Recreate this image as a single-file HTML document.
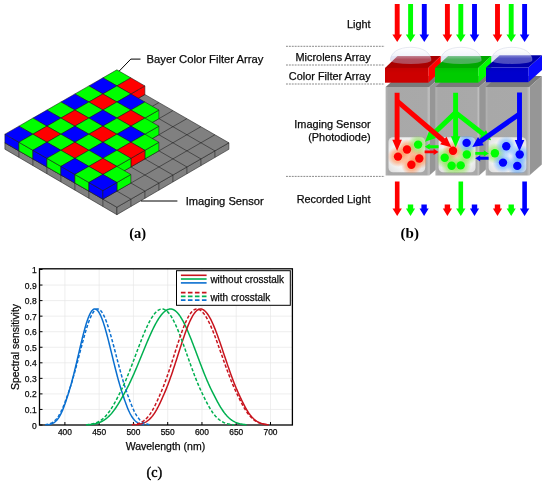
<!DOCTYPE html>
<html><head><meta charset="utf-8"><title>Figure</title>
<style>html,body{margin:0;padding:0;background:#fff}svg{display:block}text{font-family:"Liberation Sans",sans-serif;fill:#0a0a0a;stroke:#0a0a0a;stroke-width:0.25px}text.sb{font-family:"Liberation Serif",serif;font-weight:bold;fill:#000;stroke:none}text.sr{font-family:"Liberation Serif",serif;fill:#000;stroke:#000;stroke-width:0.4px}</style></head><body>
<svg width="550" height="485" viewBox="0 0 550 485">
<rect width="550" height="485" fill="#fff"/>
<g stroke="#1a1a1a" stroke-width="0.55" stroke-linejoin="round">
<polygon fill="#808080" points="4.90,142.80 116.90,207.20 116.90,214.70 4.90,149.20"/>
<polygon fill="#808080" points="116.90,207.20 228.90,142.80 228.90,149.30 116.90,214.70"/>
<polygon fill="#808080" points="4.90,142.80 116.90,78.40 228.90,142.80 116.90,207.20"/>
<path fill="none" d="M18.90 150.85L130.90 86.45M18.90 134.75L130.90 199.15M18.90 150.85L18.90 157.39M130.90 199.15L130.90 206.53M32.90 158.90L144.90 94.50M32.90 126.70L144.90 191.10M32.90 158.90L32.90 165.58M144.90 191.10L144.90 198.35M46.90 166.95L158.90 102.55M46.90 118.65L158.90 183.05M46.90 166.95L46.90 173.76M158.90 183.05L158.90 190.18M60.90 175.00L172.90 110.60M60.90 110.60L172.90 175.00M60.90 175.00L60.90 181.95M172.90 175.00L172.90 182.00M74.90 183.05L186.90 118.65M74.90 102.55L186.90 166.95M74.90 183.05L74.90 190.14M186.90 166.95L186.90 173.83M88.90 191.10L200.90 126.70M88.90 94.50L200.90 158.90M88.90 191.10L88.90 198.33M200.90 158.90L200.90 165.65M102.90 199.15L214.90 134.75M102.90 86.45L214.90 150.85M102.90 199.15L102.90 206.51M214.90 150.85L214.90 157.48"/>
<polygon fill="#00ff00" points="102.90,77.85 116.90,69.80 130.90,77.85 116.90,85.90"/>
<polygon fill="#ff0000" points="130.90,93.95 144.90,85.90 144.90,94.50 130.90,102.55"/>
<polygon fill="#ff0000" points="116.90,85.90 130.90,77.85 144.90,85.90 130.90,93.95"/>
<polygon fill="#0000ff" points="88.90,85.90 102.90,77.85 116.90,85.90 102.90,93.95"/>
<polygon fill="#00ff00" points="102.90,93.95 116.90,85.90 130.90,93.95 116.90,102.00"/>
<polygon fill="#0000ff" points="116.90,102.00 130.90,93.95 144.90,102.00 130.90,110.05"/>
<polygon fill="#00ff00" points="144.90,118.10 158.90,110.05 158.90,118.65 144.90,126.70"/>
<polygon fill="#00ff00" points="130.90,110.05 144.90,102.00 158.90,110.05 144.90,118.10"/>
<polygon fill="#00ff00" points="74.90,93.95 88.90,85.90 102.90,93.95 88.90,102.00"/>
<polygon fill="#ff0000" points="88.90,102.00 102.90,93.95 116.90,102.00 102.90,110.05"/>
<polygon fill="#00ff00" points="102.90,110.05 116.90,102.00 130.90,110.05 116.90,118.10"/>
<polygon fill="#ff0000" points="116.90,118.10 130.90,110.05 144.90,118.10 130.90,126.15"/>
<polygon fill="#00ff00" points="144.90,134.20 158.90,126.15 158.90,134.75 144.90,142.80"/>
<polygon fill="#00ff00" points="130.90,126.15 144.90,118.10 158.90,126.15 144.90,134.20"/>
<polygon fill="#0000ff" points="60.90,102.00 74.90,93.95 88.90,102.00 74.90,110.05"/>
<polygon fill="#00ff00" points="74.90,110.05 88.90,102.00 102.90,110.05 88.90,118.10"/>
<polygon fill="#0000ff" points="88.90,118.10 102.90,110.05 116.90,118.10 102.90,126.15"/>
<polygon fill="#00ff00" points="102.90,126.15 116.90,118.10 130.90,126.15 116.90,134.20"/>
<polygon fill="#0000ff" points="116.90,134.20 130.90,126.15 144.90,134.20 130.90,142.25"/>
<polygon fill="#00ff00" points="144.90,150.30 158.90,142.25 158.90,150.85 144.90,158.90"/>
<polygon fill="#00ff00" points="130.90,142.25 144.90,134.20 158.90,142.25 144.90,150.30"/>
<polygon fill="#00ff00" points="46.90,110.05 60.90,102.00 74.90,110.05 60.90,118.10"/>
<polygon fill="#ff0000" points="60.90,118.10 74.90,110.05 88.90,118.10 74.90,126.15"/>
<polygon fill="#00ff00" points="74.90,126.15 88.90,118.10 102.90,126.15 88.90,134.20"/>
<polygon fill="#ff0000" points="88.90,134.20 102.90,126.15 116.90,134.20 102.90,142.25"/>
<polygon fill="#00ff00" points="102.90,142.25 116.90,134.20 130.90,142.25 116.90,150.30"/>
<polygon fill="#ff0000" points="130.90,158.35 144.90,150.30 144.90,158.90 130.90,166.95"/>
<polygon fill="#ff0000" points="116.90,150.30 130.90,142.25 144.90,150.30 130.90,158.35"/>
<polygon fill="#0000ff" points="32.90,118.10 46.90,110.05 60.90,118.10 46.90,126.15"/>
<polygon fill="#00ff00" points="46.90,126.15 60.90,118.10 74.90,126.15 60.90,134.20"/>
<polygon fill="#0000ff" points="60.90,134.20 74.90,126.15 88.90,134.20 74.90,142.25"/>
<polygon fill="#00ff00" points="74.90,142.25 88.90,134.20 102.90,142.25 88.90,150.30"/>
<polygon fill="#0000ff" points="88.90,150.30 102.90,142.25 116.90,150.30 102.90,158.35"/>
<polygon fill="#00ff00" points="116.90,166.40 130.90,158.35 130.90,166.95 116.90,175.00"/>
<polygon fill="#00ff00" points="102.90,158.35 116.90,150.30 130.90,158.35 116.90,166.40"/>
<polygon fill="#00ff00" points="18.90,126.15 32.90,118.10 46.90,126.15 32.90,134.20"/>
<polygon fill="#ff0000" points="32.90,134.20 46.90,126.15 60.90,134.20 46.90,142.25"/>
<polygon fill="#00ff00" points="46.90,142.25 60.90,134.20 74.90,142.25 60.90,150.30"/>
<polygon fill="#ff0000" points="60.90,150.30 74.90,142.25 88.90,150.30 74.90,158.35"/>
<polygon fill="#00ff00" points="74.90,158.35 88.90,150.30 102.90,158.35 88.90,166.40"/>
<polygon fill="#ff0000" points="88.90,166.40 102.90,158.35 116.90,166.40 102.90,174.45"/>
<polygon fill="#00ff00" points="116.90,182.50 130.90,174.45 130.90,183.05 116.90,191.10"/>
<polygon fill="#00ff00" points="102.90,174.45 116.90,166.40 130.90,174.45 116.90,182.50"/>
<polygon fill="#0000ff" points="4.90,134.20 18.90,142.25 18.90,150.85 4.90,142.80"/>
<polygon fill="#0000ff" points="4.90,134.20 18.90,126.15 32.90,134.20 18.90,142.25"/>
<polygon fill="#00ff00" points="18.90,142.25 32.90,150.30 32.90,158.90 18.90,150.85"/>
<polygon fill="#00ff00" points="18.90,142.25 32.90,134.20 46.90,142.25 32.90,150.30"/>
<polygon fill="#0000ff" points="32.90,150.30 46.90,158.35 46.90,166.95 32.90,158.90"/>
<polygon fill="#0000ff" points="32.90,150.30 46.90,142.25 60.90,150.30 46.90,158.35"/>
<polygon fill="#00ff00" points="46.90,158.35 60.90,166.40 60.90,175.00 46.90,166.95"/>
<polygon fill="#00ff00" points="46.90,158.35 60.90,150.30 74.90,158.35 60.90,166.40"/>
<polygon fill="#0000ff" points="60.90,166.40 74.90,174.45 74.90,183.05 60.90,175.00"/>
<polygon fill="#0000ff" points="60.90,166.40 74.90,158.35 88.90,166.40 74.90,174.45"/>
<polygon fill="#00ff00" points="74.90,174.45 88.90,182.50 88.90,191.10 74.90,183.05"/>
<polygon fill="#00ff00" points="74.90,174.45 88.90,166.40 102.90,174.45 88.90,182.50"/>
<polygon fill="#0000ff" points="88.90,182.50 102.90,190.55 102.90,199.15 88.90,191.10"/>
<polygon fill="#0000ff" points="102.90,190.55 116.90,182.50 116.90,191.10 102.90,199.15"/>
<polygon fill="#0000ff" points="88.90,182.50 102.90,174.45 116.90,182.50 102.90,190.55"/>
</g>
<path d="M119.2 71.1L130.8 59.1L140.5 59.1" fill="none" stroke="#000" stroke-width="1"/>
<path d="M140.9 201L177.4 201" fill="none" stroke="#000" stroke-width="1"/>
<text x="146.5" y="63.2" font-size="11.26" textLength="117" lengthAdjust="spacingAndGlyphs">Bayer Color Filter Array</text>
<text x="185.7" y="204.7" font-size="11.14" textLength="78" lengthAdjust="spacingAndGlyphs">Imaging Sensor</text>
<text x="137.7" y="238.1" font-size="14.6" text-anchor="middle" textLength="17" lengthAdjust="spacingAndGlyphs" class="sb">(a)</text>
<path d="M286 46.3H384.7" stroke="#7a7a7a" stroke-width="0.9" stroke-dasharray="1.9 1.0" fill="none"/>
<path d="M286 65.0H384.7" stroke="#7a7a7a" stroke-width="0.9" stroke-dasharray="1.9 1.0" fill="none"/>
<path d="M286 84.0H384.7" stroke="#7a7a7a" stroke-width="0.9" stroke-dasharray="1.9 1.0" fill="none"/>
<path d="M286 176.4H384.7" stroke="#7a7a7a" stroke-width="0.9" stroke-dasharray="1.9 1.0" fill="none"/>
<text x="370.6" y="27.7" font-size="10.9" text-anchor="end" textLength="23.6" lengthAdjust="spacingAndGlyphs">Light</text>
<text x="370.6" y="60.5" font-size="10.9" text-anchor="end" textLength="75.1" lengthAdjust="spacingAndGlyphs">Microlens Array</text>
<text x="370.6" y="79.5" font-size="10.9" text-anchor="end" textLength="81.8" lengthAdjust="spacingAndGlyphs">Color Filter Array</text>
<text x="370.6" y="127.6" font-size="10.9" text-anchor="end" textLength="76.3" lengthAdjust="spacingAndGlyphs">Imaging Sensor</text>
<text x="370.6" y="141.0" font-size="10.9" text-anchor="end" textLength="62.4" lengthAdjust="spacingAndGlyphs">(Photodiode)</text>
<text x="370.6" y="202.9" font-size="10.9" text-anchor="end" textLength="73.9" lengthAdjust="spacingAndGlyphs">Recorded Light</text>
<path fill="#ff0000" d="M394.75 4.00H399.65V34.40H402.00L397.20 42.00L392.40 34.40H394.75Z"/>
<path fill="#00ff00" d="M408.15 4.00H413.05V34.40H415.40L410.60 42.00L405.80 34.40H408.15Z"/>
<path fill="#0000ff" d="M421.85 4.00H426.75V34.40H429.10L424.30 42.00L419.50 34.40H421.85Z"/>
<path fill="#ff0000" d="M444.95 4.00H449.85V34.40H452.20L447.40 42.00L442.60 34.40H444.95Z"/>
<path fill="#00ff00" d="M458.35 4.00H463.25V34.40H465.60L460.80 42.00L456.00 34.40H458.35Z"/>
<path fill="#0000ff" d="M472.05 4.00H476.95V34.40H479.30L474.50 42.00L469.70 34.40H472.05Z"/>
<path fill="#ff0000" d="M495.05 4.00H499.95V34.40H502.30L497.50 42.00L492.70 34.40H495.05Z"/>
<path fill="#00ff00" d="M508.75 4.00H513.65V34.40H516.00L511.20 42.00L506.40 34.40H508.75Z"/>
<path fill="#0000ff" d="M522.15 4.00H527.05V34.40H529.40L524.60 42.00L519.80 34.40H522.15Z"/>
<defs>
<linearGradient id="cf" x1="0" x2="1" y1="0" y2="0"><stop offset="0" stop-color="#b4b4b4"/><stop offset="0.06" stop-color="#a8a8a8"/><stop offset="0.94" stop-color="#a9a9a9"/><stop offset="1" stop-color="#c4c4c4"/></linearGradient>
<radialGradient id="well" cx="0.5" cy="0.5" r="0.75"><stop offset="0" stop-color="#ffffff"/><stop offset="0.55" stop-color="#f4f4f4"/><stop offset="1" stop-color="#d8d8d8"/></radialGradient>
<radialGradient id="gr"><stop offset="0" stop-color="rgb(255,125,55)" stop-opacity="0.72"/><stop offset="0.55" stop-color="rgb(255,125,55)" stop-opacity="0.5"/><stop offset="1" stop-color="rgb(255,125,55)" stop-opacity="0"/></radialGradient>
<radialGradient id="gg"><stop offset="0" stop-color="rgb(130,225,70)" stop-opacity="0.72"/><stop offset="0.55" stop-color="rgb(130,225,70)" stop-opacity="0.5"/><stop offset="1" stop-color="rgb(130,225,70)" stop-opacity="0"/></radialGradient>
<radialGradient id="gb"><stop offset="0" stop-color="rgb(80,160,255)" stop-opacity="0.72"/><stop offset="0.55" stop-color="rgb(80,160,255)" stop-opacity="0.5"/><stop offset="1" stop-color="rgb(80,160,255)" stop-opacity="0"/></radialGradient>
<linearGradient id="dome" x1="0" x2="0" y1="0" y2="1"><stop offset="0" stop-color="#ffffff" stop-opacity="0.95"/><stop offset="0.6" stop-color="#f0f2f8" stop-opacity="0.7"/><stop offset="1" stop-color="#c8ccd8" stop-opacity="0.45"/></linearGradient>
</defs>
<polygon fill="#7a7a7a" points="385.60,87.00 429.30,87.00 441.70,76.10 398.00,76.10"/>
<polygon fill="#969696" points="429.30,87.00 441.70,76.10 441.70,164.60 429.30,175.50"/>
<rect x="385.6" y="87.0" width="43.7" height="88.5" fill="url(#cf)"/>
<polygon fill="#7a7a7a" points="435.40,87.00 479.10,87.00 491.50,76.10 447.80,76.10"/>
<polygon fill="#969696" points="479.10,87.00 491.50,76.10 491.50,164.60 479.10,175.50"/>
<rect x="435.4" y="87.0" width="43.7" height="88.5" fill="url(#cf)"/>
<polygon fill="#7a7a7a" points="485.70,87.00 529.40,87.00 541.80,76.10 498.10,76.10"/>
<polygon fill="#969696" points="529.40,87.00 541.80,76.10 541.80,164.60 529.40,175.50"/>
<rect x="485.7" y="87.0" width="43.7" height="88.5" fill="url(#cf)"/>
<linearGradient id="bf0" x1="0" x2="0" y1="0" y2="1"><stop offset="0" stop-color="#c40000"/><stop offset="0.35" stop-color="#cd0000"/><stop offset="1" stop-color="#cd0000"/></linearGradient>
<polygon fill="#ff0000" points="428.30,67.90 440.80,56.00 440.80,70.80 428.30,82.70"/>
<polygon fill="#aa0000" points="385.00,67.90 428.30,67.90 440.80,56.00 397.50,56.00"/>
<rect x="385.0" y="67.9" width="43.30000000000001" height="14.799999999999997" fill="url(#bf0)"/>
<linearGradient id="bf1" x1="0" x2="0" y1="0" y2="1"><stop offset="0" stop-color="#00c000"/><stop offset="0.35" stop-color="#00cb00"/><stop offset="1" stop-color="#00cb00"/></linearGradient>
<polygon fill="#00ff00" points="478.30,68.00 491.40,56.00 491.40,70.70 478.30,82.70"/>
<polygon fill="#00a800" points="435.00,68.00 478.30,68.00 491.40,56.00 448.10,56.00"/>
<rect x="435.0" y="68.0" width="43.30000000000001" height="14.700000000000003" fill="url(#bf1)"/>
<linearGradient id="bf2" x1="0" x2="0" y1="0" y2="1"><stop offset="0" stop-color="#0000c4"/><stop offset="0.35" stop-color="#0000cd"/><stop offset="1" stop-color="#0000cd"/></linearGradient>
<polygon fill="#0a0aff" points="528.30,67.50 542.00,55.20 542.00,69.90 528.30,82.20"/>
<polygon fill="#0000aa" points="486.00,67.50 528.30,67.50 542.00,55.20 499.70,55.20"/>
<rect x="486.0" y="67.5" width="42.299999999999955" height="14.700000000000003" fill="url(#bf2)"/>
<linearGradient id="dg0" gradientUnits="userSpaceOnUse" x1="0" x2="0" y1="47.3" y2="63.9"><stop offset="0" stop-color="#fff" stop-opacity="0.95"/><stop offset="0.506" stop-color="#f1f3fa" stop-opacity="0.93"/><stop offset="0.542" stop-color="#d2d6f0" stop-opacity="0.6"/><stop offset="0.729" stop-color="#babde0" stop-opacity="0.42"/><stop offset="1" stop-color="#babde0" stop-opacity="0.40"/></linearGradient>
<path d="M390.40 60.50C390.40 52.50 398.52 47.30 410.70 47.30C422.88 47.30 431.00 52.50 431.00 60.50A20.3 3.4 0 0 1 390.40 60.50Z" fill="url(#dg0)"/>
<path d="M390.40 60.50C390.40 52.50 398.52 47.30 410.70 47.30C422.88 47.30 431.00 52.50 431.00 60.50" fill="none" stroke="#aeb6cf" stroke-opacity="0.6" stroke-width="0.5"/>
<linearGradient id="dg1" gradientUnits="userSpaceOnUse" x1="0" x2="0" y1="47.3" y2="63.9"><stop offset="0" stop-color="#fff" stop-opacity="0.95"/><stop offset="0.506" stop-color="#f1f3fa" stop-opacity="0.93"/><stop offset="0.542" stop-color="#d2d6f0" stop-opacity="0.6"/><stop offset="0.729" stop-color="#babde0" stop-opacity="0.42"/><stop offset="1" stop-color="#babde0" stop-opacity="0.40"/></linearGradient>
<path d="M440.70 60.50C440.70 52.50 448.82 47.30 461.00 47.30C473.18 47.30 481.30 52.50 481.30 60.50A20.3 3.4 0 0 1 440.70 60.50Z" fill="url(#dg1)"/>
<path d="M440.70 60.50C440.70 52.50 448.82 47.30 461.00 47.30C473.18 47.30 481.30 52.50 481.30 60.50" fill="none" stroke="#aeb6cf" stroke-opacity="0.6" stroke-width="0.5"/>
<linearGradient id="dg2" gradientUnits="userSpaceOnUse" x1="0" x2="0" y1="47.3" y2="63.9"><stop offset="0" stop-color="#fff" stop-opacity="0.95"/><stop offset="0.458" stop-color="#f1f3fa" stop-opacity="0.93"/><stop offset="0.494" stop-color="#d2d6f0" stop-opacity="0.6"/><stop offset="0.681" stop-color="#babde0" stop-opacity="0.42"/><stop offset="1" stop-color="#babde0" stop-opacity="0.40"/></linearGradient>
<path d="M491.50 60.50C491.50 52.50 499.62 47.30 511.80 47.30C523.98 47.30 532.10 52.50 532.10 60.50A20.3 3.4 0 0 1 491.50 60.50Z" fill="url(#dg2)"/>
<path d="M491.50 60.50C491.50 52.50 499.62 47.30 511.80 47.30C523.98 47.30 532.10 52.50 532.10 60.50" fill="none" stroke="#aeb6cf" stroke-opacity="0.6" stroke-width="0.5"/>
<rect x="388.5" y="137.3" width="36.69999999999999" height="35" rx="4.5" fill="url(#well)"/>
<rect x="438.6" y="137.3" width="36.89999999999998" height="35" rx="4.5" fill="url(#well)"/>
<rect x="488.6" y="137.3" width="37.69999999999993" height="35" rx="4.5" fill="url(#well)"/>
<clipPath id="wc"><rect x="387.5" y="136.3" width="38.69999999999999" height="37" rx="5"/><rect x="437.6" y="136.3" width="38.89999999999998" height="37" rx="5"/><rect x="487.6" y="136.3" width="39.69999999999993" height="37" rx="5"/></clipPath>
<g clip-path="url(#wc)">
<circle cx="407" cy="149.5" r="10.5" fill="url(#gr)"/>
<circle cx="398" cy="156.6" r="10.5" fill="url(#gr)"/>
<circle cx="419.3" cy="158.5" r="10.5" fill="url(#gr)"/>
<circle cx="411.4" cy="164.8" r="10.5" fill="url(#gr)"/>
<circle cx="453" cy="150.8" r="10.5" fill="url(#gr)"/>
<circle cx="418.1" cy="144.6" r="10.5" fill="url(#gg)"/>
<circle cx="444.7" cy="157.7" r="10.5" fill="url(#gg)"/>
<circle cx="466.8" cy="154.5" r="10.5" fill="url(#gg)"/>
<circle cx="451.6" cy="165.8" r="10.5" fill="url(#gg)"/>
<circle cx="460.7" cy="165.4" r="10.5" fill="url(#gg)"/>
<circle cx="494.9" cy="153.2" r="10.5" fill="url(#gg)"/>
<circle cx="466.6" cy="142.9" r="10.5" fill="url(#gb)"/>
<circle cx="506.3" cy="146.3" r="10.5" fill="url(#gb)"/>
<circle cx="519.7" cy="154.5" r="10.5" fill="url(#gb)"/>
<circle cx="503" cy="162.6" r="10.5" fill="url(#gb)"/>
<circle cx="517.3" cy="165.9" r="10.5" fill="url(#gb)"/>
</g>
<circle cx="407" cy="149.5" r="4.2" fill="#ff0000"/>
<circle cx="398" cy="156.6" r="4.2" fill="#ff0000"/>
<circle cx="419.3" cy="158.5" r="4.2" fill="#ff0000"/>
<circle cx="411.4" cy="164.8" r="4.2" fill="#ff0000"/>
<circle cx="453" cy="150.8" r="4.2" fill="#ff0000"/>
<circle cx="418.1" cy="144.6" r="4.2" fill="#00ff00"/>
<circle cx="444.7" cy="157.7" r="4.2" fill="#00ff00"/>
<circle cx="466.8" cy="154.5" r="4.2" fill="#00ff00"/>
<circle cx="451.6" cy="165.8" r="4.2" fill="#00ff00"/>
<circle cx="460.7" cy="165.4" r="4.2" fill="#00ff00"/>
<circle cx="494.9" cy="153.2" r="4.2" fill="#00ff00"/>
<circle cx="466.6" cy="142.9" r="4.2" fill="#0000ff"/>
<circle cx="506.3" cy="146.3" r="4.2" fill="#0000ff"/>
<circle cx="519.7" cy="154.5" r="4.2" fill="#0000ff"/>
<circle cx="503" cy="162.6" r="4.2" fill="#0000ff"/>
<circle cx="517.3" cy="165.9" r="4.2" fill="#0000ff"/>
<polygon fill="#00ff00" points="453.88,110.79 430.89,132.65 429.16,130.84 425.00,141.70 436.05,138.09 434.33,136.28 457.32,114.41"/>
<polygon fill="#00ff00" points="454.06,114.57 481.38,135.83 479.84,137.80 491.20,140.30 485.98,129.91 484.45,131.88 457.14,110.63"/>
<polygon fill="#00ff00" points="453.15,92.70 453.15,136.20 450.80,136.20 455.60,147.40 460.40,136.20 458.05,136.20 458.05,92.70"/>
<polygon fill="#0000ff" points="518.06,111.95 479.46,139.02 478.03,136.98 472.30,147.10 483.77,145.17 482.33,143.12 520.94,116.05"/>
<polygon fill="#0000ff" points="517.05,92.40 517.05,140.00 514.70,140.00 519.50,151.20 524.30,140.00 521.95,140.00 521.95,92.40"/>
<polygon fill="#ff0000" points="395.58,103.10 441.69,142.39 440.07,144.30 451.30,147.30 446.55,136.68 444.93,138.59 398.82,99.30"/>
<polygon fill="#ff0000" points="394.65,92.70 394.65,139.70 392.30,139.70 397.10,150.90 401.90,139.70 399.55,139.70 399.55,92.70"/>
<polygon fill="#00ff00" points="438.60,145.25 429.80,145.25 429.80,143.60 424.80,146.70 429.80,149.80 429.80,148.15 438.60,148.15"/>
<polygon fill="#ff0000" points="424.60,153.35 433.60,153.35 433.60,155.00 438.60,151.90 433.60,148.80 433.60,150.45 424.60,150.45"/>
<polygon fill="#00ff00" points="475.30,154.85 483.80,154.85 483.80,156.50 488.80,153.40 483.80,150.30 483.80,151.95 475.30,151.95"/>
<polygon fill="#0000ff" points="488.60,156.85 480.20,156.85 480.20,155.20 475.20,158.30 480.20,161.40 480.20,159.75 488.60,159.75"/>
<path fill="#ff0000" d="M394.90 181.40H399.50V208.60H401.90L397.20 216.00L392.50 208.60H394.90Z"/>
<path fill="#00ff00" d="M407.80 204.50H413.20V208.60H415.10L410.50 216.00L405.90 208.60H407.80Z"/>
<path fill="#0000ff" d="M421.40 204.50H426.80V208.60H428.70L424.10 216.00L419.50 208.60H421.40Z"/>
<path fill="#ff0000" d="M444.70 204.50H450.10V208.60H452.00L447.40 216.00L442.80 208.60H444.70Z"/>
<path fill="#00ff00" d="M458.50 181.40H463.10V208.60H465.50L460.80 216.00L456.10 208.60H458.50Z"/>
<path fill="#0000ff" d="M471.80 204.50H477.20V208.60H479.10L474.50 216.00L469.90 208.60H471.80Z"/>
<path fill="#ff0000" d="M494.80 204.50H500.20V208.60H502.10L497.50 216.00L492.90 208.60H494.80Z"/>
<path fill="#00ff00" d="M508.50 204.50H513.90V208.60H515.80L511.20 216.00L506.60 208.60H508.50Z"/>
<path fill="#0000ff" d="M522.30 181.40H526.90V208.60H529.30L524.60 216.00L519.90 208.60H522.30Z"/>
<text x="409.8" y="238.1" font-size="14.6" text-anchor="middle" textLength="18.4" lengthAdjust="spacingAndGlyphs" class="sb">(b)</text>
<path d="M64.90 268.8V425.0M99.17 268.8V425.0M133.43 268.8V425.0M167.69 268.8V425.0M201.96 268.8V425.0M236.23 268.8V425.0M270.49 268.8V425.0M39.5 409.45H292.4M39.5 393.90H292.4M39.5 378.35H292.4M39.5 362.80H292.4M39.5 347.25H292.4M39.5 331.70H292.4M39.5 316.15H292.4M39.5 300.60H292.4M39.5 285.05H292.4" stroke="#e6e6e6" stroke-width="0.7" fill="none"/>
<rect x="39.5" y="268.8" width="252.89999999999998" height="156.2" fill="none" stroke="#000" stroke-width="1.3"/>
<path d="M64.90 425.0v-3M99.17 425.0v-3M133.43 425.0v-3M167.69 425.0v-3M201.96 425.0v-3M236.23 425.0v-3M270.49 425.0v-3M39.5 425.00h3M39.5 409.45h3M39.5 393.90h3M39.5 378.35h3M39.5 362.80h3M39.5 347.25h3M39.5 331.70h3M39.5 316.15h3M39.5 300.60h3M39.5 285.05h3M39.5 269.50h3" stroke="#000" stroke-width="1" fill="none"/>
<clipPath id="pc"><rect x="39.5" y="268.8" width="252.89999999999998" height="157.1"/></clipPath>
<g clip-path="url(#pc)" fill="none" stroke-width="1.5" stroke-linejoin="round">
<path d="M47.48 424.76L48.00 424.70L48.51 424.62L49.03 424.53L49.54 424.43L50.05 424.31L50.57 424.17L51.08 424.02L51.60 423.83L52.11 423.63L52.62 423.39L53.14 423.13L53.65 422.83L54.17 422.50L54.68 422.14L55.19 421.73L55.71 421.28L56.22 420.78L56.74 420.24L57.25 419.65L57.76 419.00L58.28 418.30L58.79 417.55L59.31 416.74L59.82 415.87L60.33 414.93L60.85 413.94L61.36 412.89L61.88 411.78L62.39 410.60L62.90 409.37L63.42 408.09L63.93 406.74L64.44 405.35L64.96 403.91L65.47 402.42L65.99 400.90L66.50 399.34L67.01 397.76L67.53 396.15L68.04 394.53L68.56 392.91L69.07 391.27L69.58 389.58L70.10 387.84L70.61 386.05L71.13 384.22L71.64 382.35L72.15 380.43L72.67 378.48L73.18 376.48L73.70 374.45L74.21 372.39L74.72 370.29L75.24 368.17L75.75 366.03L76.27 363.86L76.78 361.68L77.29 359.49L77.81 357.28L78.32 355.07L78.84 352.86L79.35 350.65L79.86 348.46L80.38 346.27L80.89 344.10L81.41 341.95L81.92 339.84L82.43 337.75L82.95 335.70L83.46 333.69L83.98 331.73L84.49 329.82L85.00 327.97L85.52 326.18L86.03 324.45L86.55 322.80L87.06 321.22L87.57 319.72L88.09 318.31L88.60 316.98L89.12 315.75L89.63 314.61L90.14 313.56L90.66 312.62L91.17 311.78L91.69 311.05L92.20 310.43L92.71 309.92L93.23 309.52L93.74 309.23L94.26 309.06L94.77 309.00L95.28 309.05L95.80 309.20L96.31 309.46L96.83 309.82L97.34 310.29L97.85 310.85L98.37 311.51L98.88 312.28L99.40 313.13L99.91 314.09L100.42 315.13L100.94 316.26L101.45 317.47L101.97 318.77L102.48 320.15L102.99 321.60L103.51 323.12L104.02 324.71L104.53 326.37L105.05 328.08L105.56 329.85L106.08 331.68L106.59 333.55L107.10 335.46L107.62 337.41L108.13 339.40L108.65 341.42L109.16 343.46L109.67 345.52L110.19 347.61L110.70 349.70L111.22 351.81L111.73 353.91L112.24 356.03L112.76 358.13L113.27 360.24L113.79 362.33L114.30 364.41L114.81 366.47L115.33 368.52L115.84 370.54L116.36 372.54L116.87 374.50L117.38 376.44L117.90 378.35L118.41 380.22L118.93 382.06L119.44 383.85L119.95 385.61L120.47 387.33L120.98 389.00L121.50 390.63L122.01 392.22L122.52 393.77L123.04 395.32L123.55 396.86L124.07 398.39L124.58 399.89L125.09 401.37L125.61 402.81L126.12 404.22L126.64 405.59L127.15 406.91L127.66 408.19L128.18 409.42L128.69 410.59L129.21 411.71L129.72 412.78L130.23 413.79L130.75 414.75L131.26 415.65L131.78 416.50L132.29 417.29L132.80 418.03L133.32 418.72L133.83 419.36L134.35 419.95L134.86 420.49L135.37 420.99L135.89 421.44L136.40 421.86L136.92 422.24L137.43 422.58L137.94 422.89L138.46 423.17L138.97 423.42L139.49 423.64L140.00 423.83L140.51 424.01L141.03 424.16L141.54 424.29L142.06 424.41L142.57 424.51L143.08 424.60L143.60 424.67L144.11 424.74" stroke="#0a6fd0"/>
<path d="M87.72 424.75L88.23 424.72L88.75 424.68L89.26 424.64L89.77 424.59L90.29 424.54L90.80 424.48L91.32 424.42L91.83 424.35L92.34 424.28L92.86 424.20L93.37 424.12L93.89 424.03L94.40 423.93L94.91 423.82L95.43 423.70L95.94 423.58L96.46 423.45L96.97 423.30L97.48 423.15L98.00 422.99L98.51 422.81L99.02 422.63L99.54 422.43L100.05 422.22L100.57 422.00L101.08 421.76L101.59 421.51L102.11 421.25L102.62 420.97L103.14 420.68L103.65 420.37L104.16 420.05L104.68 419.71L105.19 419.35L105.71 418.97L106.22 418.58L106.73 418.17L107.25 417.74L107.76 417.29L108.28 416.83L108.79 416.34L109.30 415.84L109.82 415.31L110.33 414.77L110.85 414.21L111.36 413.62L111.87 413.02L112.39 412.40L112.90 411.76L113.42 411.09L113.93 410.41L114.44 409.71L114.96 409.00L115.47 408.26L115.99 407.51L116.50 406.73L117.01 405.95L117.53 405.14L118.04 404.32L118.56 403.49L119.07 402.64L119.58 401.78L120.10 400.91L120.61 400.02L121.13 399.13L121.64 398.23L122.15 397.32L122.67 396.40L123.18 395.48L123.70 394.56L124.21 393.64L124.72 392.71L125.24 391.78L125.75 390.83L126.27 389.87L126.78 388.89L127.29 387.89L127.81 386.88L128.32 385.86L128.84 384.82L129.35 383.76L129.86 382.69L130.38 381.61L130.89 380.51L131.41 379.40L131.92 378.28L132.43 377.15L132.95 376.00L133.46 374.85L133.98 373.68L134.49 372.50L135.00 371.31L135.52 370.11L136.03 368.91L136.55 367.69L137.06 366.47L137.57 365.24L138.09 364.01L138.60 362.77L139.12 361.52L139.63 360.27L140.14 359.02L140.66 357.76L141.17 356.50L141.68 355.24L142.20 353.98L142.71 352.73L143.23 351.47L143.74 350.21L144.25 348.96L144.77 347.71L145.28 346.47L145.80 345.23L146.31 343.99L146.82 342.77L147.34 341.55L147.85 340.34L148.37 339.15L148.88 337.96L149.39 336.78L149.91 335.62L150.42 334.47L150.94 333.34L151.45 332.22L151.96 331.12L152.48 330.04L152.99 328.97L153.51 327.92L154.02 326.90L154.53 325.89L155.05 324.90L155.56 323.94L156.08 323.00L156.59 322.09L157.10 321.20L157.62 320.34L158.13 319.50L158.65 318.69L159.16 317.91L159.67 317.16L160.19 316.44L160.70 315.74L161.22 315.08L161.73 314.45L162.24 313.85L162.76 313.29L163.27 312.76L163.79 312.26L164.30 311.79L164.81 311.36L165.33 310.97L165.84 310.61L166.36 310.28L166.87 309.99L167.38 309.74L167.90 309.53L168.41 309.35L168.93 309.20L169.44 309.10L169.95 309.03L170.47 309.00L170.98 309.01L171.50 309.06L172.01 309.15L172.52 309.29L173.04 309.48L173.55 309.70L174.07 309.97L174.58 310.29L175.09 310.64L175.61 311.04L176.12 311.48L176.64 311.96L177.15 312.48L177.66 313.05L178.18 313.65L178.69 314.29L179.21 314.97L179.72 315.69L180.23 316.44L180.75 317.23L181.26 318.05L181.77 318.91L182.29 319.80L182.80 320.73L183.32 321.68L183.83 322.67L184.34 323.68L184.86 324.73L185.37 325.80L185.89 326.89L186.40 328.01L186.91 329.16L187.43 330.32L187.94 331.51L188.46 332.72L188.97 333.95L189.48 335.19L190.00 336.46L190.51 337.73L191.03 339.02L191.54 340.33L192.05 341.65L192.57 342.97L193.08 344.31L193.60 345.66L194.11 347.01L194.62 348.37L195.14 349.73L195.65 351.10L196.17 352.47L196.68 353.85L197.19 355.22L197.71 356.59L198.22 357.96L198.74 359.33L199.25 360.70L199.76 362.06L200.28 363.41L200.79 364.76L201.31 366.10L201.82 367.44L202.33 368.76L202.85 370.08L203.36 371.39L203.88 372.68L204.39 373.96L204.90 375.23L205.42 376.49L205.93 377.73L206.45 378.96L206.96 380.18L207.47 381.37L207.99 382.56L208.50 383.72L209.02 384.87L209.53 386.00L210.04 387.12L210.56 388.22L211.07 389.30L211.59 390.36L212.10 391.40L212.61 392.42L213.13 393.43L213.64 394.44L214.16 395.44L214.67 396.45L215.18 397.44L215.70 398.43L216.21 399.41L216.73 400.38L217.24 401.34L217.75 402.29L218.27 403.22L218.78 404.13L219.30 405.03L219.81 405.90L220.32 406.76L220.84 407.60L221.35 408.42L221.86 409.22L222.38 410.00L222.89 410.75L223.41 411.48L223.92 412.19L224.43 412.87L224.95 413.53L225.46 414.17L225.98 414.79L226.49 415.38L227.00 415.95L227.52 416.49L228.03 417.01L228.55 417.51L229.06 417.99L229.57 418.44L230.09 418.88L230.60 419.29L231.12 419.68L231.63 420.05L232.14 420.41L232.66 420.74L233.17 421.06L233.69 421.35L234.20 421.63L234.71 421.90L235.23 422.15L235.74 422.38L236.26 422.60L236.77 422.80L237.28 422.99L237.80 423.17L238.31 423.33L238.83 423.48L239.34 423.63L239.85 423.76L240.37 423.88L240.88 423.99L241.40 424.09L241.91 424.19L242.42 424.28L242.94 424.36L243.45 424.43L243.97 424.49L244.48 424.55L244.99 424.61L245.51 424.66L246.02 424.70L246.54 424.74" stroke="#00b050"/>
<path d="M135.71 424.75L136.23 424.71L136.74 424.66L137.26 424.60L137.77 424.53L138.28 424.46L138.80 424.38L139.31 424.28L139.83 424.18L140.34 424.07L140.85 423.94L141.37 423.81L141.88 423.66L142.40 423.49L142.91 423.31L143.42 423.12L143.94 422.90L144.45 422.67L144.97 422.42L145.48 422.15L145.99 421.86L146.51 421.54L147.02 421.20L147.54 420.84L148.05 420.46L148.56 420.04L149.08 419.60L149.59 419.14L150.11 418.64L150.62 418.12L151.13 417.56L151.65 416.97L152.16 416.36L152.68 415.71L153.19 415.03L153.70 414.32L154.22 413.57L154.73 412.80L155.25 411.99L155.76 411.15L156.27 410.27L156.79 409.37L157.30 408.44L157.82 407.48L158.33 406.48L158.84 405.47L159.36 404.42L159.87 403.35L160.39 402.26L160.90 401.15L161.41 400.03L161.93 398.88L162.44 397.72L162.96 396.56L163.47 395.38L163.98 394.20L164.50 393.02L165.01 391.83L165.53 390.61L166.04 389.37L166.55 388.10L167.07 386.81L167.58 385.50L168.10 384.16L168.61 382.79L169.12 381.41L169.64 380.00L170.15 378.57L170.66 377.12L171.18 375.65L171.69 374.17L172.21 372.66L172.72 371.14L173.23 369.61L173.75 368.06L174.26 366.50L174.78 364.92L175.29 363.34L175.80 361.75L176.32 360.15L176.83 358.54L177.35 356.94L177.86 355.33L178.37 353.71L178.89 352.10L179.40 350.50L179.92 348.89L180.43 347.30L180.94 345.71L181.46 344.13L181.97 342.56L182.49 341.01L183.00 339.47L183.51 337.95L184.03 336.45L184.54 334.97L185.06 333.51L185.57 332.08L186.08 330.68L186.60 329.30L187.11 327.96L187.63 326.65L188.14 325.37L188.65 324.13L189.17 322.93L189.68 321.77L190.20 320.65L190.71 319.57L191.22 318.54L191.74 317.55L192.25 316.61L192.77 315.72L193.28 314.88L193.79 314.09L194.31 313.36L194.82 312.68L195.34 312.05L195.85 311.48L196.36 310.97L196.88 310.52L197.39 310.12L197.91 309.78L198.42 309.50L198.93 309.29L199.45 309.13L199.96 309.03L200.48 309.00L200.99 309.02L201.50 309.10L202.02 309.23L202.53 309.42L203.05 309.66L203.56 309.96L204.07 310.31L204.59 310.71L205.10 311.17L205.62 311.67L206.13 312.23L206.64 312.84L207.16 313.50L207.67 314.21L208.19 314.97L208.70 315.77L209.21 316.62L209.73 317.52L210.24 318.45L210.75 319.43L211.27 320.45L211.78 321.51L212.30 322.61L212.81 323.74L213.32 324.91L213.84 326.11L214.35 327.34L214.87 328.61L215.38 329.90L215.89 331.22L216.41 332.57L216.92 333.94L217.44 335.33L217.95 336.75L218.46 338.18L218.98 339.63L219.49 341.09L220.01 342.57L220.52 344.06L221.03 345.57L221.55 347.08L222.06 348.60L222.58 350.12L223.09 351.65L223.60 353.18L224.12 354.72L224.63 356.25L225.15 357.78L225.66 359.31L226.17 360.84L226.69 362.36L227.20 363.87L227.72 365.38L228.23 366.87L228.74 368.36L229.26 369.83L229.77 371.29L230.29 372.74L230.80 374.17L231.31 375.58L231.83 376.98L232.34 378.36L232.86 379.73L233.37 381.07L233.88 382.40L234.40 383.70L234.91 384.98L235.43 386.25L235.94 387.49L236.45 388.71L236.97 389.90L237.48 391.07L238.00 392.22L238.51 393.35L239.02 394.47L239.54 395.60L240.05 396.72L240.57 397.83L241.08 398.93L241.59 400.02L242.11 401.09L242.62 402.15L243.14 403.19L243.65 404.21L244.16 405.21L244.68 406.19L245.19 407.14L245.71 408.07L246.22 408.97L246.73 409.84L247.25 410.69L247.76 411.50L248.28 412.29L248.79 413.05L249.30 413.78L249.82 414.48L250.33 415.15L250.85 415.80L251.36 416.41L251.87 417.00L252.39 417.55L252.90 418.08L253.41 418.58L253.93 419.06L254.44 419.51L254.96 419.93L255.47 420.33L255.98 420.71L256.50 421.06L257.01 421.39L257.53 421.70L258.04 421.99L258.55 422.26L259.07 422.51L259.58 422.75L260.10 422.96L260.61 423.16L261.12 423.34L261.64 423.51L262.15 423.67L262.67 423.81L263.18 423.94L263.69 424.06L264.21 424.17L264.72 424.27L265.24 424.36L265.75 424.44L266.26 424.51L266.78 424.57L267.29 424.63L267.81 424.68L268.32 424.73" stroke="#c8141e"/>
<path d="M45.12 424.73L45.64 424.67L46.15 424.60L46.67 424.52L47.18 424.43L47.69 424.32L48.21 424.20L48.72 424.06L49.24 423.90L49.75 423.73L50.26 423.53L50.78 423.31L51.29 423.07L51.81 422.80L52.32 422.50L52.83 422.17L53.35 421.81L53.86 421.41L54.38 420.98L54.89 420.52L55.40 420.01L55.92 419.46L56.43 418.87L56.95 418.24L57.46 417.56L57.97 416.84L58.49 416.06L59.00 415.24L59.52 414.37L60.03 413.46L60.54 412.49L61.06 411.48L61.57 410.41L62.09 409.30L62.60 408.15L63.11 406.95L63.63 405.71L64.14 404.42L64.66 403.11L65.17 401.76L65.68 400.38L66.20 398.97L66.71 397.55L67.23 396.11L67.74 394.66L68.25 393.20L68.77 391.74L69.28 390.23L69.80 388.69L70.31 387.12L70.82 385.50L71.34 383.85L71.85 382.16L72.37 380.44L72.88 378.69L73.39 376.90L73.91 375.09L74.42 373.25L74.93 371.38L75.45 369.49L75.96 367.58L76.48 365.65L76.99 363.71L77.50 361.75L78.02 359.78L78.53 357.81L79.05 355.83L79.56 353.84L80.07 351.86L80.59 349.88L81.10 347.92L81.62 345.96L82.13 344.01L82.64 342.09L83.16 340.18L83.67 338.31L84.19 336.46L84.70 334.64L85.21 332.86L85.73 331.11L86.24 329.41L86.76 327.76L87.27 326.16L87.78 324.61L88.30 323.12L88.81 321.68L89.33 320.32L89.84 319.01L90.35 317.78L90.87 316.61L91.38 315.53L91.90 314.51L92.41 313.58L92.92 312.73L93.44 311.96L93.95 311.28L94.47 310.69L94.98 310.18L95.49 309.76L96.01 309.43L96.52 309.20L97.04 309.05L97.55 309.00L98.06 309.04L98.58 309.17L99.09 309.39L99.61 309.70L100.12 310.10L100.63 310.58L101.15 311.16L101.66 311.82L102.18 312.57L102.69 313.40L103.20 314.31L103.72 315.29L104.23 316.36L104.75 317.50L105.26 318.71L105.77 319.99L106.29 321.33L106.80 322.74L107.32 324.21L107.83 325.74L108.34 327.32L108.86 328.95L109.37 330.62L109.89 332.34L110.40 334.10L110.91 335.90L111.43 337.73L111.94 339.59L112.46 341.47L112.97 343.38L113.48 345.31L114.00 347.25L114.51 349.20L115.03 351.17L115.54 353.14L116.05 355.11L116.57 357.08L117.08 359.04L117.59 361.00L118.11 362.95L118.62 364.89L119.14 366.82L119.65 368.72L120.16 370.61L120.68 372.47L121.19 374.31L121.71 376.13L122.22 377.91L122.73 379.67L123.25 381.40L123.76 383.09L124.28 384.75L124.79 386.37L125.30 387.96L125.82 389.51L126.33 391.02L126.85 392.49L127.36 393.94L127.87 395.38L128.39 396.82L128.90 398.25L129.42 399.66L129.93 401.04L130.44 402.40L130.96 403.73L131.47 405.02L131.99 406.27L132.50 407.49L133.01 408.66L133.53 409.79L134.04 410.88L134.56 411.91L135.07 412.90L135.58 413.84L136.10 414.73L136.61 415.58L137.13 416.37L137.64 417.12L138.15 417.83L138.67 418.48L139.18 419.10L139.70 419.67L140.21 420.20L140.72 420.69L141.24 421.14L141.75 421.55L142.27 421.93L142.78 422.28L143.29 422.60L143.81 422.89L144.32 423.15L144.84 423.38L145.35 423.59L145.86 423.78L146.38 423.95L146.89 424.10L147.41 424.23L147.92 424.35L148.43 424.45L148.95 424.54L149.46 424.62L149.98 424.69L150.49 424.75" stroke="#0a6fd0" stroke-dasharray="3.3 1.9"/>
<path d="M86.01 424.76L86.53 424.72L87.04 424.68L87.55 424.63L88.07 424.58L88.58 424.52L89.10 424.46L89.61 424.39L90.12 424.31L90.64 424.23L91.15 424.14L91.67 424.04L92.18 423.93L92.69 423.81L93.21 423.69L93.72 423.55L94.24 423.40L94.75 423.24L95.26 423.07L95.78 422.88L96.29 422.69L96.81 422.48L97.32 422.25L97.83 422.01L98.35 421.75L98.86 421.48L99.38 421.19L99.89 420.88L100.40 420.56L100.92 420.21L101.43 419.85L101.95 419.46L102.46 419.06L102.97 418.64L103.49 418.19L104.00 417.72L104.52 417.23L105.03 416.72L105.54 416.19L106.06 415.63L106.57 415.05L107.09 414.45L107.60 413.82L108.11 413.17L108.63 412.49L109.14 411.80L109.66 411.08L110.17 410.33L110.68 409.57L111.20 408.78L111.71 407.97L112.23 407.14L112.74 406.29L113.25 405.42L113.77 404.53L114.28 403.62L114.80 402.70L115.31 401.76L115.82 400.81L116.34 399.85L116.85 398.87L117.36 397.88L117.88 396.89L118.39 395.89L118.91 394.89L119.42 393.88L119.93 392.87L120.45 391.86L120.96 390.82L121.48 389.77L121.99 388.70L122.50 387.61L123.02 386.51L123.53 385.38L124.05 384.24L124.56 383.08L125.07 381.91L125.59 380.72L126.10 379.51L126.62 378.29L127.13 377.05L127.64 375.80L128.16 374.54L128.67 373.26L129.19 371.97L129.70 370.67L130.21 369.36L130.73 368.04L131.24 366.71L131.76 365.37L132.27 364.02L132.78 362.67L133.30 361.31L133.81 359.95L134.33 358.58L134.84 357.21L135.35 355.84L135.87 354.47L136.38 353.09L136.90 351.72L137.41 350.35L137.92 348.99L138.44 347.63L138.95 346.27L139.47 344.92L139.98 343.58L140.49 342.25L141.01 340.93L141.52 339.62L142.04 338.32L142.55 337.03L143.06 335.77L143.58 334.51L144.09 333.28L144.61 332.06L145.12 330.86L145.63 329.69L146.15 328.53L146.66 327.40L147.18 326.29L147.69 325.21L148.20 324.16L148.72 323.13L149.23 322.13L149.75 321.16L150.26 320.22L150.77 319.32L151.29 318.44L151.80 317.60L152.32 316.80L152.83 316.03L153.34 315.29L153.86 314.60L154.37 313.94L154.89 313.32L155.40 312.74L155.91 312.20L156.43 311.70L156.94 311.24L157.45 310.82L157.97 310.45L158.48 310.11L159.00 309.82L159.51 309.58L160.02 309.37L160.54 309.21L161.05 309.10L161.57 309.02L162.08 309.00L162.59 309.02L163.11 309.08L163.62 309.20L164.14 309.37L164.65 309.59L165.16 309.85L165.68 310.16L166.19 310.53L166.71 310.93L167.22 311.39L167.73 311.89L168.25 312.44L168.76 313.04L169.28 313.68L169.79 314.36L170.30 315.08L170.82 315.85L171.33 316.66L171.85 317.51L172.36 318.39L172.87 319.32L173.39 320.28L173.90 321.28L174.42 322.31L174.93 323.37L175.44 324.47L175.96 325.60L176.47 326.75L176.99 327.94L177.50 329.15L178.01 330.39L178.53 331.65L179.04 332.93L179.56 334.24L180.07 335.56L180.58 336.90L181.10 338.26L181.61 339.64L182.13 341.03L182.64 342.43L183.15 343.84L183.67 345.26L184.18 346.70L184.70 348.13L185.21 349.58L185.72 351.03L186.24 352.48L186.75 353.94L187.27 355.39L187.78 356.84L188.29 358.30L188.81 359.75L189.32 361.19L189.84 362.63L190.35 364.06L190.86 365.49L191.38 366.91L191.89 368.32L192.41 369.71L192.92 371.10L193.43 372.47L193.95 373.83L194.46 375.18L194.98 376.51L195.49 377.83L196.00 379.13L196.52 380.41L197.03 381.68L197.55 382.93L198.06 384.16L198.57 385.37L199.09 386.56L199.60 387.73L200.11 388.88L200.63 390.01L201.14 391.12L201.66 392.21L202.17 393.28L202.68 394.35L203.20 395.41L203.71 396.47L204.23 397.53L204.74 398.58L205.25 399.62L205.77 400.64L206.28 401.65L206.80 402.65L207.31 403.62L207.82 404.58L208.34 405.52L208.85 406.44L209.37 407.34L209.88 408.21L210.39 409.06L210.91 409.89L211.42 410.69L211.94 411.47L212.45 412.22L212.96 412.94L213.48 413.64L213.99 414.31L214.51 414.95L215.02 415.57L215.53 416.16L216.05 416.73L216.56 417.27L217.08 417.79L217.59 418.28L218.10 418.75L218.62 419.19L219.13 419.61L219.65 420.01L220.16 420.38L220.67 420.74L221.19 421.07L221.70 421.39L222.22 421.68L222.73 421.96L223.24 422.21L223.76 422.46L224.27 422.68L224.79 422.89L225.30 423.08L225.81 423.26L226.33 423.43L226.84 423.59L227.36 423.73L227.87 423.86L228.38 423.98L228.90 424.09L229.41 424.19L229.93 424.28L230.44 424.36L230.95 424.44L231.47 424.51L231.98 424.57L232.50 424.63L233.01 424.68L233.52 424.72L234.04 424.76" stroke="#00b050" stroke-dasharray="3.3 1.9"/>
<path d="M131.87 424.75L132.38 424.71L132.90 424.66L133.41 424.60L133.92 424.53L134.44 424.46L134.95 424.38L135.47 424.29L135.98 424.18L136.49 424.07L137.01 423.95L137.52 423.81L138.04 423.66L138.55 423.50L139.06 423.32L139.58 423.12L140.09 422.91L140.61 422.68L141.12 422.43L141.63 422.16L142.15 421.87L142.66 421.55L143.18 421.22L143.69 420.86L144.20 420.47L144.72 420.06L145.23 419.62L145.74 419.16L146.26 418.66L146.77 418.14L147.29 417.59L147.80 417.01L148.31 416.39L148.83 415.75L149.34 415.07L149.86 414.36L150.37 413.62L150.88 412.84L151.40 412.04L151.91 411.20L152.43 410.33L152.94 409.43L153.45 408.50L153.97 407.54L154.48 406.55L155.00 405.53L155.51 404.49L156.02 403.43L156.54 402.34L157.05 401.23L157.57 400.11L158.08 398.97L158.59 397.81L159.11 396.64L159.62 395.47L160.14 394.29L160.65 393.11L161.16 391.92L161.68 390.71L162.19 389.47L162.71 388.21L163.22 386.92L163.73 385.61L164.25 384.27L164.76 382.91L165.28 381.53L165.79 380.12L166.30 378.70L166.82 377.25L167.33 375.79L167.85 374.30L168.36 372.80L168.87 371.29L169.39 369.75L169.90 368.21L170.42 366.65L170.93 365.08L171.44 363.50L171.96 361.91L172.47 360.31L172.99 358.71L173.50 357.10L174.01 355.50L174.53 353.89L175.04 352.28L175.56 350.67L176.07 349.07L176.58 347.47L177.10 345.88L177.61 344.31L178.13 342.74L178.64 341.19L179.15 339.65L179.67 338.13L180.18 336.63L180.70 335.14L181.21 333.69L181.72 332.25L182.24 330.85L182.75 329.47L183.27 328.13L183.78 326.81L184.29 325.53L184.81 324.29L185.32 323.08L185.83 321.92L186.35 320.79L186.86 319.71L187.38 318.67L187.89 317.68L188.40 316.73L188.92 315.84L189.43 314.99L189.95 314.20L190.46 313.46L190.97 312.77L191.49 312.14L192.00 311.56L192.52 311.04L193.03 310.58L193.54 310.17L194.06 309.83L194.57 309.54L195.09 309.32L195.60 309.15L196.11 309.04L196.63 309.00L197.14 309.01L197.66 309.07L198.17 309.19L198.68 309.35L199.20 309.56L199.71 309.82L200.23 310.13L200.74 310.49L201.25 310.89L201.77 311.34L202.28 311.84L202.80 312.39L203.31 312.98L203.82 313.61L204.34 314.29L204.85 315.02L205.37 315.78L205.88 316.59L206.39 317.43L206.91 318.32L207.42 319.24L207.94 320.20L208.45 321.20L208.96 322.23L209.48 323.29L209.99 324.39L210.51 325.52L211.02 326.67L211.53 327.86L212.05 329.07L212.56 330.31L213.08 331.57L213.59 332.85L214.10 334.16L214.62 335.48L215.13 336.83L215.65 338.19L216.16 339.57L216.67 340.96L217.19 342.36L217.70 343.78L218.22 345.20L218.73 346.64L219.24 348.08L219.76 349.52L220.27 350.98L220.79 352.43L221.30 353.89L221.81 355.34L222.33 356.80L222.84 358.26L223.36 359.71L223.87 361.16L224.38 362.60L224.90 364.03L225.41 365.46L225.93 366.88L226.44 368.29L226.95 369.69L227.47 371.08L227.98 372.46L228.49 373.82L229.01 375.17L229.52 376.50L230.04 377.82L230.55 379.13L231.06 380.41L231.58 381.68L232.09 382.93L232.61 384.16L233.12 385.37L233.63 386.57L234.15 387.74L234.66 388.89L235.18 390.03L235.69 391.14L236.20 392.23L236.72 393.30L237.23 394.37L237.75 395.44L238.26 396.50L238.77 397.56L239.29 398.61L239.80 399.65L240.32 400.67L240.83 401.68L241.34 402.68L241.86 403.66L242.37 404.62L242.89 405.56L243.40 406.48L243.91 407.38L244.43 408.25L244.94 409.10L245.46 409.93L245.97 410.73L246.48 411.51L247.00 412.26L247.51 412.98L248.03 413.68L248.54 414.35L249.05 414.99L249.57 415.61L250.08 416.20L250.60 416.77L251.11 417.31L251.62 417.82L252.14 418.31L252.65 418.78L253.17 419.22L253.68 419.64L254.19 420.04L254.71 420.41L255.22 420.77L255.74 421.10L256.25 421.41L256.76 421.71L257.28 421.98L257.79 422.24L258.31 422.48L258.82 422.70L259.33 422.91L259.85 423.10L260.36 423.28L260.88 423.45L261.39 423.60L261.90 423.74L262.42 423.87L262.93 423.99L263.45 424.10L263.96 424.20L264.47 424.29L264.99 424.37L265.50 424.45L266.02 424.52L266.53 424.58L267.04 424.63L267.56 424.68L268.07 424.73L268.58 424.77" stroke="#c8141e" stroke-dasharray="3.3 1.9"/>
</g>
<text x="64.90" y="435.1" font-size="8.4" text-anchor="middle">400</text>
<text x="99.17" y="435.1" font-size="8.4" text-anchor="middle">450</text>
<text x="133.43" y="435.1" font-size="8.4" text-anchor="middle">500</text>
<text x="167.69" y="435.1" font-size="8.4" text-anchor="middle">550</text>
<text x="201.96" y="435.1" font-size="8.4" text-anchor="middle">600</text>
<text x="236.23" y="435.1" font-size="8.4" text-anchor="middle">650</text>
<text x="270.49" y="435.1" font-size="8.4" text-anchor="middle">700</text>
<text x="36.7" y="428.50" font-size="8.5" text-anchor="end">0</text>
<text x="36.7" y="412.95" font-size="8.5" text-anchor="end">0.1</text>
<text x="36.7" y="397.40" font-size="8.5" text-anchor="end">0.2</text>
<text x="36.7" y="381.85" font-size="8.5" text-anchor="end">0.3</text>
<text x="36.7" y="366.30" font-size="8.5" text-anchor="end">0.4</text>
<text x="36.7" y="350.75" font-size="8.5" text-anchor="end">0.5</text>
<text x="36.7" y="335.20" font-size="8.5" text-anchor="end">0.6</text>
<text x="36.7" y="319.65" font-size="8.5" text-anchor="end">0.7</text>
<text x="36.7" y="304.10" font-size="8.5" text-anchor="end">0.8</text>
<text x="36.7" y="288.55" font-size="8.5" text-anchor="end">0.9</text>
<text x="36.7" y="273.00" font-size="8.5" text-anchor="end">1</text>
<text x="165.4" y="449.7" font-size="10.5" text-anchor="middle" textLength="79.5" lengthAdjust="spacingAndGlyphs">Wavelength (nm)</text>
<text transform="translate(18.6,347) rotate(-90)" font-size="10.4" text-anchor="middle" textLength="86" lengthAdjust="spacingAndGlyphs">Spectral sensitivity</text>
<rect x="176.5" y="270.7" width="113.8" height="34.6" fill="#fff" stroke="#000" stroke-width="1"/>
<path d="M180.9 275.3H206.6" stroke="#c8141e" stroke-width="1.6"/>
<path d="M180.9 279.0H206.6" stroke="#00b050" stroke-width="1.6"/>
<path d="M180.9 282.9H206.6" stroke="#0a6fd0" stroke-width="1.6"/>
<path d="M180.9 292.6H206.6" stroke="#c8141e" stroke-width="1.7" stroke-dasharray="4.6 2.4"/>
<path d="M180.9 296.4H206.6" stroke="#00b050" stroke-width="1.7" stroke-dasharray="4.6 2.4"/>
<path d="M180.9 300.2H206.6" stroke="#0a6fd0" stroke-width="1.7" stroke-dasharray="4.6 2.4"/>
<text x="210.4" y="283.0" font-size="10" textLength="73.6" lengthAdjust="spacingAndGlyphs">without crosstalk</text>
<text x="210.4" y="300.6" font-size="10" textLength="59.8" lengthAdjust="spacingAndGlyphs">with crosstalk</text>
<text x="154.4" y="476.9" font-size="14.4" text-anchor="middle" textLength="15.8" lengthAdjust="spacingAndGlyphs" class="sr">(c)</text>
</svg></body></html>
